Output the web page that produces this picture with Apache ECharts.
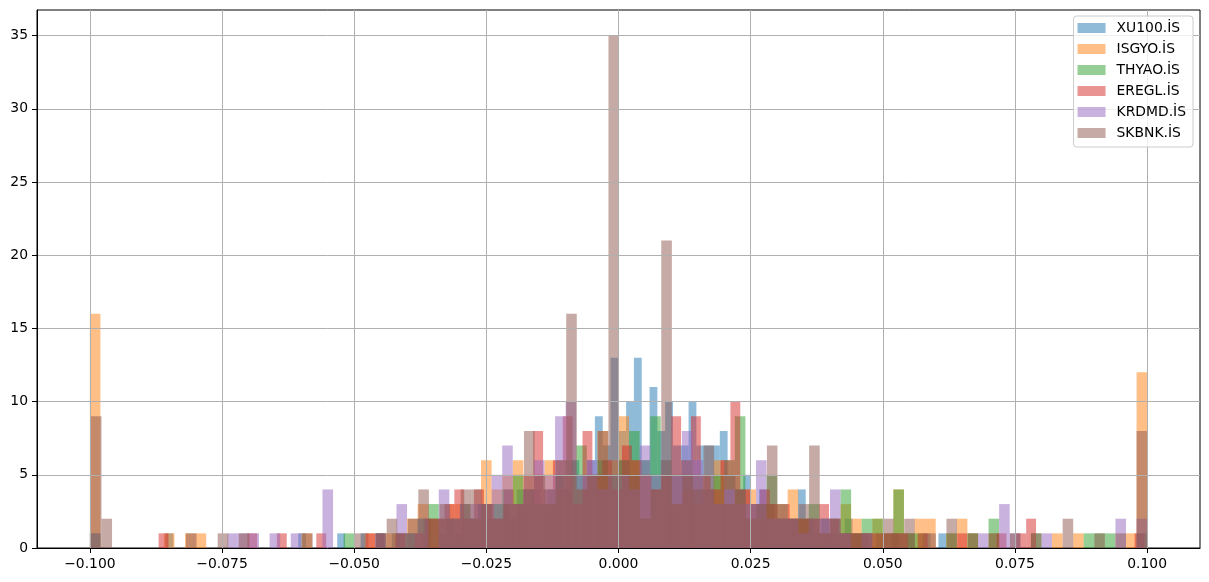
<!DOCTYPE html>
<html><head><meta charset="utf-8">
<script src="https://cdn.jsdelivr.net/npm/echarts@6/dist/echarts.min.js"></script>
<style>html,body{margin:0;padding:0;background:#fff}#c{width:1209px;height:582px}</style>
</head><body><div id="c"></div>
<script>
// Series (legend order = drawing order)
const seriesNames = ['XU100.İS', 'ISGYO.İS', 'THYAO.İS', 'EREGL.İS', 'KRDMD.İS', 'SKBNK.İS'];
const seriesColors = ['rgba(31,119,180,0.5)', 'rgba(255,127,14,0.5)', 'rgba(44,160,44,0.5)',
                      'rgba(214,39,40,0.5)', 'rgba(148,103,189,0.5)', 'rgba(140,86,75,0.5)'];
// data range [min, max] of each series (100 equal bins each)
const rangeXU100 = [-0.0857, 0.0620];
const rangeISGYO = [-0.1, 0.1];
const rangeTHYAO = [-0.1, 0.1];
const rangeEREGL = [-0.087, 0.0995];
const rangeKRDMD = [-0.1, 0.1];
const rangeSKBNK = [-0.0998, 0.1];

// bin counts (100 bins per series)
const countsXU100 = [
  1,0,0,0,0,0,0,0,0,0,
  0,0,0,0,0,0,0,1,0,0,
  0,0,1,0,0,1,0,1,0,1,
  0,1,0,2,0,1,2,1,2,2,
  3,2,3,3,2,4,3,4,3,4,
  5,4,6,5,6,9,7,13,8,10,
  13,6,11,8,10,7,7,10,7,7,
  7,8,5,4,5,3,4,3,2,2,
  2,4,2,1,2,1,1,2,1,1,
  0,1,0,1,0,1,0,1,0,1];
const countsISGYO = [
  16,0,0,0,0,0,0,1,0,1,
  1,0,0,0,0,0,0,0,0,0,
  1,0,0,0,0,0,1,0,1,1,
  2,3,2,2,3,3,2,6,4,5,
  6,4,5,6,4,5,4,5,8,6,
  9,6,5,4,5,3,4,3,4,6,
  3,3,4,2,3,2,4,2,2,1,
  2,3,2,1,2,1,4,1,2,2,
  0,1,2,1,0,1,0,0,0,0,
  0,1,0,1,0,0,0,0,1,12];
const countsTHYAO = [
  1,0,0,0,0,0,0,0,0,0,
  0,0,0,0,0,0,0,0,0,0,
  0,0,0,0,1,0,0,1,0,1,
  1,2,3,2,2,3,2,3,3,4,
  5,4,3,4,5,6,7,5,6,5,
  6,8,6,9,6,5,6,5,4,5,
  6,9,3,3,5,3,2,2,3,2,
  2,4,1,2,2,1,4,1,1,0,
  0,1,0,1,0,2,0,0,0,1,
  0,0,0,0,1,1,1,0,0,1];
const countsEREGL = [
  1,0,0,0,0,0,0,0,0,1,
  0,0,1,0,0,0,1,0,0,0,
  0,1,1,0,1,0,1,2,2,3,
  4,2,4,3,2,4,3,5,8,4,
  6,9,3,8,5,6,4,7,6,5,
  4,5,9,6,9,5,4,6,10,4,
  3,4,3,3,2,2,2,3,2,1,
  1,1,1,1,1,1,0,1,0,0,
  0,1,0,0,0,1,0,1,2,0,
  0,0,0,0,0,0,0,0,0,1];
const countsKRDMD = [
  1,0,0,0,0,0,0,0,0,0,
  0,0,0,1,1,1,0,1,0,1,
  0,0,4,0,0,0,0,1,0,3,
  1,2,0,4,2,3,3,3,5,7,
  3,4,6,5,9,10,5,6,4,5,
  5,4,7,5,6,5,8,6,4,3,
  4,3,3,6,2,2,2,1,2,2,
  4,1,0,1,0,0,0,0,0,0,
  0,0,0,0,1,0,3,1,0,0,
  1,0,0,0,0,0,0,2,0,2];
const countsSKBNK = [
  9,2,0,0,0,0,0,0,0,1,
  0,0,1,0,1,0,0,0,0,0,
  1,0,0,0,0,1,0,1,2,1,
  2,4,2,3,2,4,4,3,2,3,
  3,8,5,3,6,16,4,5,8,35,
  6,5,2,4,21,3,5,4,7,3,
  3,4,2,3,7,2,2,3,7,1,
  2,1,1,1,0,2,1,2,0,1,
  0,2,0,1,0,1,0,1,0,1,
  0,0,2,0,0,1,0,1,0,8];

const xTicks = [-0.1, -0.075, -0.05, -0.025, 0, 0.025, 0.05, 0.075, 0.1];
const yTicks = [0, 5, 10, 15, 20, 25, 30, 35];

const ranges = [rangeXU100, rangeISGYO, rangeTHYAO, rangeEREGL, rangeKRDMD, rangeSKBNK];
const counts = [countsXU100, countsISGYO, countsTHYAO, countsEREGL, countsKRDMD, countsSKBNK];

function makeSeries(name, range, cnt, color) {
  const w = (range[1] - range[0]) / cnt.length;
  const data = [];
  cnt.forEach((c, i) => { if (c > 0) data.push([range[0] + i * w, range[0] + (i + 1) * w, c]); });
  return {
    name: name, type: 'custom', data: data,
    itemStyle: { color: color },
    encode: { x: [0, 1], y: 2 },
    renderItem: function (params, api) {
      const a = api.coord([api.value(0), api.value(2)]);
      const b = api.coord([api.value(1), 0]);
      return { type: 'rect', shape: { x: a[0], y: a[1], width: b[0] - a[0], height: b[1] - a[1] },
               style: { fill: color } };
    }
  };
}

const FONT = 'DejaVu Sans';
const chart = echarts.init(document.getElementById('c'), null, { renderer: 'canvas' });
chart.setOption({
  animation: false,
  backgroundColor: '#fff',
  textStyle: { fontFamily: FONT },
  grid: { left: 37, right: 9, top: 10, bottom: 34, show: true, borderColor: '#000', borderWidth: 1, backgroundColor: 'transparent' },
  xAxis: {
    type: 'value', min: -0.11, max: 0.11, z: 3,
    axisLine: { show: true, onZero: false, lineStyle: { color: '#000', width: 1 } },
    axisTick: { show: true, length: 5, customValues: xTicks, lineStyle: { color: '#000', width: 1 } },
    axisLabel: { customValues: xTicks, margin: 9, color: '#000', fontSize: 13.9, fontFamily: FONT,
      formatter: v => (v < -1e-12 ? '\u2212' : '') + Math.abs(v).toFixed(3) },
    splitLine: { show: true, lineStyle: { color: '#b0b0b0', width: 1 } }
  },
  yAxis: {
    type: 'value', min: 0, max: 36.75, z: 3,
    axisLine: { show: true, onZero: false, lineStyle: { color: '#000', width: 1 } },
    axisTick: { show: true, length: 5, customValues: yTicks, lineStyle: { color: '#000', width: 1 } },
    axisLabel: { customValues: yTicks, margin: 9, color: '#000', fontSize: 13.9, fontFamily: FONT },
    splitLine: { show: true, lineStyle: { color: '#b0b0b0', width: 1 } }
  },
  legend: {
    orient: 'vertical', right: 16, top: 16, icon: 'rect', itemWidth: 28, itemHeight: 10, itemGap: 7,
    padding: [5, 7, 7, 4], backgroundColor: 'rgba(255,255,255,0.8)', borderColor: '#cccccc',
    borderWidth: 1, borderRadius: 3, z: 10,
    textStyle: { fontFamily: FONT, fontSize: 13.9, color: '#000', lineHeight: 14, padding: [0, 0, 0, 6] },
    data: seriesNames
  },
  series: seriesNames.map((n, i) => makeSeries(n, ranges[i], counts[i], seriesColors[i]))
});
</script></body></html>
